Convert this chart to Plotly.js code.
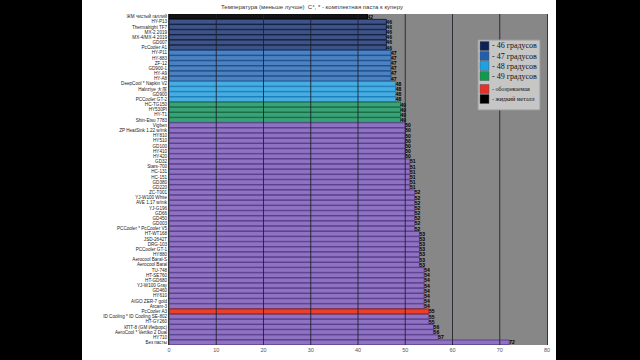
<!DOCTYPE html>
<html>
<head>
<meta charset="utf-8">
<script src="https://cdn.plot.ly/plotly-3.0.1.min.js"></script>
<style>
  html, body { margin:0; padding:0; background:#000; width:640px; height:360px; overflow:hidden; }
  #chart { position:absolute; left:82px; top:0; width:474px; height:360px; background:#fff; }
</style>
</head>
<body>
<div id="chart"></div>
<script>
// ---- data ----
const products = [
  'ЖМ чистый галлий',
  'HY-P13','Thermalright TF7','MX-2 2019','MX-4/MX-4 2019','GD007','PcCooler A1',
  'HY-P11','HY-883','ZF-12','GD900-1','HY-A9','HY-A8',
  'DeepCool * Napkin V2','Halnziye 大屋','GD900','PCCooler GT-2',
  'HC-TG150','HY530PI','HY-T1','Shin-Etsu 7783',
  'Vigben','ZP HeatSink 1.22 w/mk','HY810','HY510','GD100','HY410','HY420',
  'GD32','Stars-700','HC-131','HC-151','GD380','GD220',
  'ZC-T001','YJ-W100 White','AVE 1.17 w/mk','YJ-G196','GD66','GD450','GD003','PCCooler * PcCooler V5',
  'HT-WT168','JSD-2642T','DRG-103','PCCooler GT-1','HY880','Aerocool Baral-S','Aerocool Baral',
  'TU-748','HT-SE760','HT-GD680','YJ-W100 Gray','GD460','HY610','AIGO ZER-7 gold','Arcam-3',
  'PcCooler A3','ID Cooling * ID Cooling SE-802','HT-GY260',
  'КПТ-8 (GM Инфорс)','AeroCool * Vertiko 2 Dual','HY710','Без пасты'
];
const temps = [
  42,
  46,46,46,46,46,46,
  47,47,47,47,47,47,
  48,48,48,48,
  49,49,49,49,
  50,50,50,50,50,50,50,
  51,51,51,51,51,51,
  52,52,52,52,52,52,52,52,
  53,53,53,53,53,53,53,
  54,54,54,54,54,54,54,54,
  55,55,55,
  56,56,57,72
];
const reviewedProduct = 'PcCooler A3';
const liquidMetalProduct = 'ЖМ чистый галлий';
const titleText = 'Температура (меньше лучше)  С°, * - комплектная паста к куперу';
const xTicks = [0,10,20,30,40,50,60,70,80];
const legendLabels = ['- 46 градусов','- 47 градусов','- 48 градусов','- 49 градусов','- обозреваемая','- жидкий металл'];

// ---- styles ----
const groupStyles = {
  lm:    {fill:'#141414', line:'#000000', legend:'#000000'},
  g46:   {fill:'#3e5487', line:'#14224a', legend:'#0d2356'},
  g47:   {fill:'#4b82c2', line:'#21508c', legend:'#1e5fae'},
  g48:   {fill:'#46ace2', line:'#1d80b8', legend:'#1ca0e6'},
  g49:   {fill:'#3aa276', line:'#17704a', legend:'#0f9a50'},
  other: {fill:'#8f72c2', line:'#5a4090', legend:'#8f72c2'},
  rev:   {fill:'#e8402a', line:'#b02010', legend:'#e8302a'}
};
function groupOf(name, v) {
  if (name === liquidMetalProduct) return 'lm';
  if (name === reviewedProduct) return 'rev';
  if (v === 46) return 'g46';
  if (v === 47) return 'g47';
  if (v === 48) return 'g48';
  if (v === 49) return 'g49';
  return 'other';
}
const order = ['lm','g46','g47','g48','g49','other','rev'];
const traces = order.map(g => {
  const ys = [], xs = [];
  products.forEach((p, i) => { if (groupOf(p, temps[i]) === g) { ys.push(p); xs.push(temps[i]); } });
  return {
    type:'bar', orientation:'h', x:xs, y:ys, showlegend:false,
    marker:{color:groupStyles[g].fill, line:{color:groupStyles[g].line, width:1}},
    texttemplate:'<b>%{x}</b>', textposition:'outside', constraintext:'none', cliponaxis:false,
    textfont:{family:'Liberation Sans, Arial, sans-serif', size:5, color:'#000'},
    hoverinfo:'skip'
  };
});

// geometry of the plot area (px within the chart div)
const W = 474, H = 360;
const M = {l:87, r:9, t:14, b:15};
const PW = W - M.l - M.r, PH = H - M.t - M.b;
const px2x = px => (px - M.l) / PW;
const py2y = py => (H - M.b - py) / PH;

const shapes = [];
// gridlines drawn above bars (Excel style)
xTicks.slice(1, -1).forEach(v => shapes.push({
  type:'line', xref:'x', yref:'paper', x0:v, x1:v, y0:0, y1:1, layer:'above',
  line:{color:'rgba(30,30,40,0.85)', width:1}
}));
// legend box (custom, serif text)
const lgLeft = 396, lgTop = 40, lgRight = 458, lgBottom = 110;
shapes.push({type:'rect', xref:'paper', yref:'paper', layer:'above',
  x0:px2x(lgLeft), x1:px2x(lgRight), y0:py2y(lgBottom), y1:py2y(lgTop),
  fillcolor:'#c6c6c6', line:{color:'#9a9a9a', width:1}});
const lgCenters = [46, 56, 66, 76, 89, 99];
const lgColors = [groupStyles.g46.legend, groupStyles.g47.legend, groupStyles.g48.legend, groupStyles.g49.legend, groupStyles.rev.legend, groupStyles.lm.legend];
const annotations = [];
legendLabels.forEach((lab, i) => {
  const cy = lgCenters[i];
  shapes.push({type:'rect', xref:'paper', yref:'paper', layer:'above',
    x0:px2x(lgLeft + 2), x1:px2x(lgLeft + 11), y0:py2y(cy + 4.5), y1:py2y(cy - 4.5),
    fillcolor:lgColors[i], line:{color:'#555', width:0.5}});
  annotations.push({xref:'paper', yref:'paper', x:px2x(lgLeft + 12), y:py2y(cy),
    xanchor:'left', yanchor:'middle', showarrow:false, text:lab,
    font:{family:'Liberation Serif, Times New Roman, serif', size: i < 4 ? 8 : 6, color:'#111'}});
});

const layout = {
  width:W, height:H,
  margin:M,
  paper_bgcolor:'#ffffff', plot_bgcolor:'#878787',
  barmode:'overlay', bargap:0.08,
  title:{text:titleText, x:(312-82)/W, xref:'container', xanchor:'center', y:1-7/H, yanchor:'middle',
    font:{family:'Liberation Sans, Arial, sans-serif', size:6, color:'#333'}},
  xaxis:{range:[0,80], tickvals:xTicks, showgrid:false, zeroline:false, showline:false,
    ticks:'', tickfont:{family:'Liberation Sans, Arial, sans-serif', size:5.5, color:'#555'}},
  yaxis:{type:'category', categoryorder:'array', categoryarray:products, autorange:'reversed',
    tickmode:'array', tickvals:products, ticktext:products,
    showgrid:false, showline:true, mirror:true, linecolor:'#333', linewidth:1, ticks:'',
    tickfont:{family:'Liberation Sans, Arial, sans-serif', size:4.6, color:'#222'}},
  shapes:shapes, annotations:annotations, showlegend:false
};
Plotly.newPlot('chart', traces, layout, {displayModeBar:false, staticPlot:true});
</script>
</body>
</html>
